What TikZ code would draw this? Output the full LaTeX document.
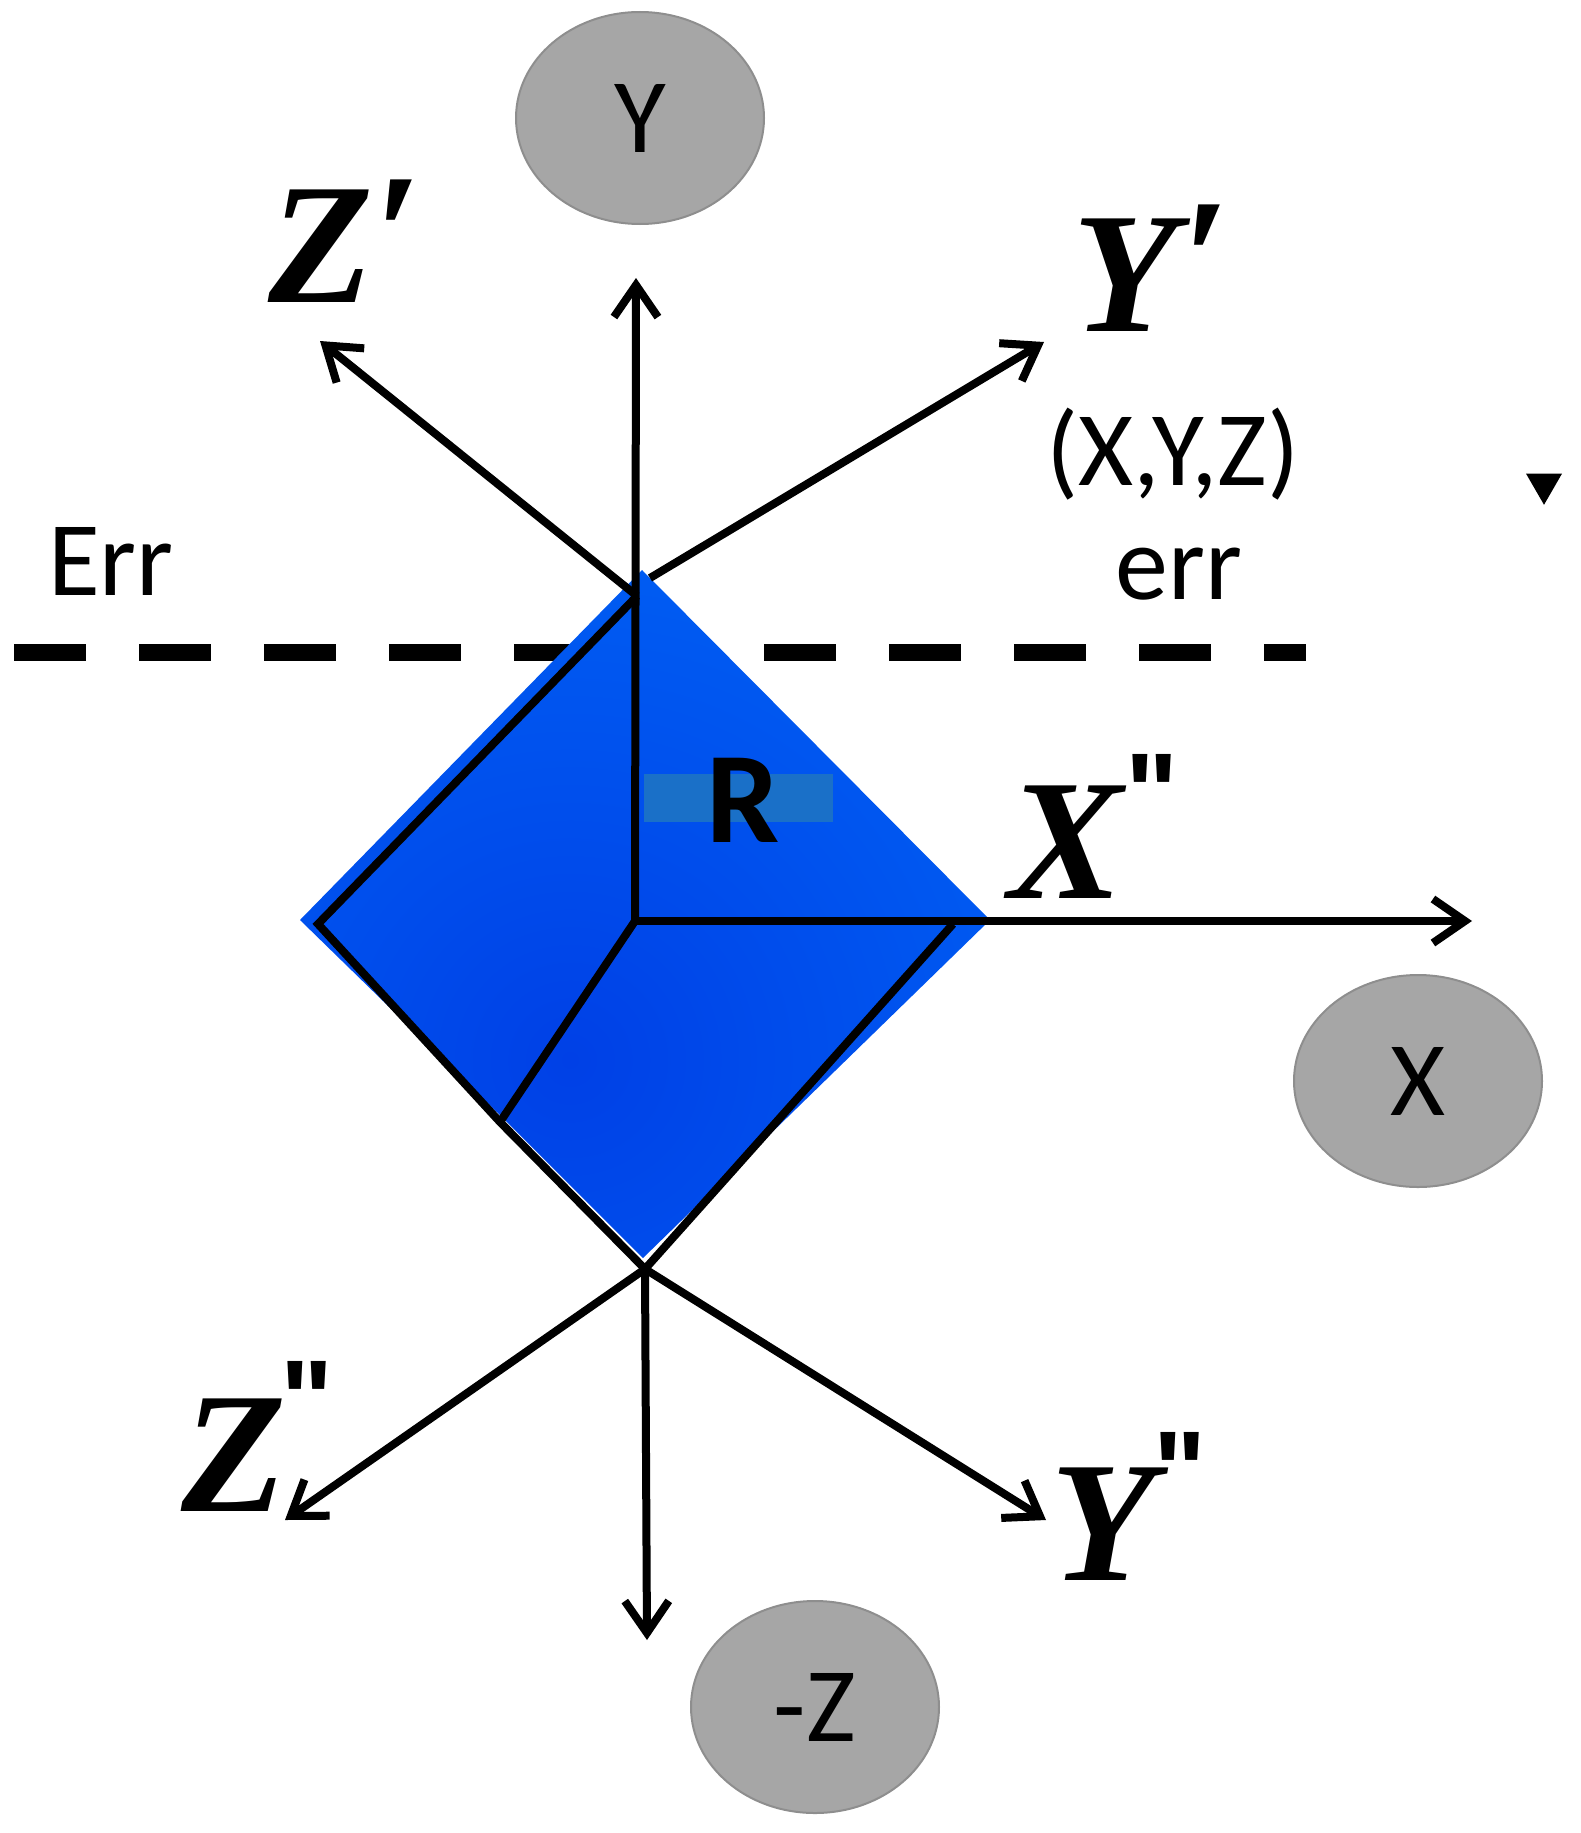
\documentclass[tikz,border=0pt]{standalone}
\usepackage{fontspec}
\setmainfont{Carlito}
\newfontfamily\mathlike{Liberation Serif}[BoldItalicFont={Liberation Serif Bold Italic}]
\newfontfamily\quotefont{Liberation Sans}[Ligatures=NoCommon]
\usetikzlibrary{arrows.meta,shapes.geometric}
\definecolor{ballgrey}{HTML}{A6A6A6}
\definecolor{ballline}{HTML}{8E8E8E}
\definecolor{cubeA}{HTML}{0040E6}
\definecolor{cubeB}{HTML}{0064F6}
\definecolor{rband}{HTML}{1A70C8}
\tikzset{
  ball/.style={ellipse,draw=ballline,line width=2pt,fill=ballgrey,minimum width=248pt,minimum height=212pt,inner sep=0pt,font=\fontsize{106}{106}\selectfont},
  plain/.style={inner sep=0pt,font=\fontsize{106}{106}\selectfont},
  axislabel/.style={inner sep=0pt,font=\mathlike\bfseries\itshape\fontsize{172}{172}\selectfont},
  marks/.style={inner sep=0pt,font=\quotefont\bfseries\fontsize{112}{112}\selectfont},
  axis/.style={line width=8pt,-{Straight Barb[length=32pt,width=44pt,line width=8pt]}},
  edge/.style={line width=8pt,line join=miter},
  errline/.style={line width=17pt,dash pattern=on 72pt off 53pt},
}
\begin{document}
\begin{tikzpicture}[x=1pt,y=-1pt]
\useasboundingbox (0,0) rectangle (1581,1833);
% key points
\coordinate (top) at (642,570);
\coordinate (left) at (300,920);
\coordinate (right) at (990,920);
\coordinate (bottom) at (643,1258);
\coordinate (notch) at (507,1122);
\coordinate (ltop) at (318,924);
\coordinate (ctop) at (637,596);
\coordinate (o) at (635,921);
\coordinate (lbot) at (645,1269);
\coordinate (rin) at (953,924);
\coordinate (mid) at (500,1122);
\coordinate (errL) at (14,652);
\coordinate (errR) at (1306,652);
\coordinate (endY) at (636,278);
\coordinate (endZp) at (320,341);
\coordinate (startYp) at (650,578);
\coordinate (endYp) at (1044,342);
\coordinate (endX) at (1472,921);
\coordinate (endZpp) at (285,1520);
\coordinate (endYpp) at (1046,1520);
\coordinate (endMZ) at (647,1640);
% dashed error line, behind the cube
\draw[errline] (errL) -- (errR);
% cube
\begin{scope}
  \clip (top) -- (right) -- (bottom) -- (notch) -- (left) -- cycle;
  \shade[inner color=cubeA,outer color=cubeB] (570,1060) circle (640);
\end{scope}
\fill[rband] (644,774) rectangle (833,822);
\node[inner sep=0pt,font=\fontsize{130}{130}\selectfont\bfseries] (R) at (743,800) {R};
% cube edges
\draw[edge] (ctop) -- (ltop) -- (mid) -- (lbot) -- (rin);
\draw[edge] (o) -- (mid);
% axes
\draw[axis] (o) -- (endY);
\draw[axis] (ctop) -- (endZp);
\draw[axis] (startYp) -- (endYp);
\draw[axis] (o) -- (endX);
\draw[axis] (lbot) -- (endZpp);
\draw[axis] (lbot) -- (endYpp);
\draw[axis] (lbot) -- (endMZ);
% balls
\node[ball] (bY) at (640,118) {Y};
\node[ball] (bX) at (1418,1081) {X};
\node[ball] (bZ) at (815,1707) {-Z};
% axis labels
\node[axislabel] (Zp) at (321,246) {Z};
\node[axislabel] (Zpm) at (397,236) {′};
\node[axislabel] (Yp) at (1125,275) {Y};
\node[axislabel] (Ypm) at (1205,261) {′};
\node[axislabel] (Xpp) at (1066,842) {X};
\node[marks] (Xppm) at (1152,793) {"};
\node[axislabel] (Zpp) at (234,1455) {Z};
\node[marks] (Zppm) at (307,1400) {"};
\node[axislabel] (Ypp) at (1103,1524) {Y};
\node[marks] (Yppm) at (1180,1471) {"};
% plain labels
\node[plain] (err1) at (111,561) {Err};
\node[plain] (xyz) at (1173,454) {(X,Y,Z)};
\node[plain] (err2) at (1179,574) {err};
\node[isosceles triangle,isosceles triangle apex angle=60,shape border rotate=-90,fill=black,minimum width=36pt,minimum height=30pt,inner sep=0pt] (tri) at (1544,484) {};
\end{tikzpicture}
\end{document}
